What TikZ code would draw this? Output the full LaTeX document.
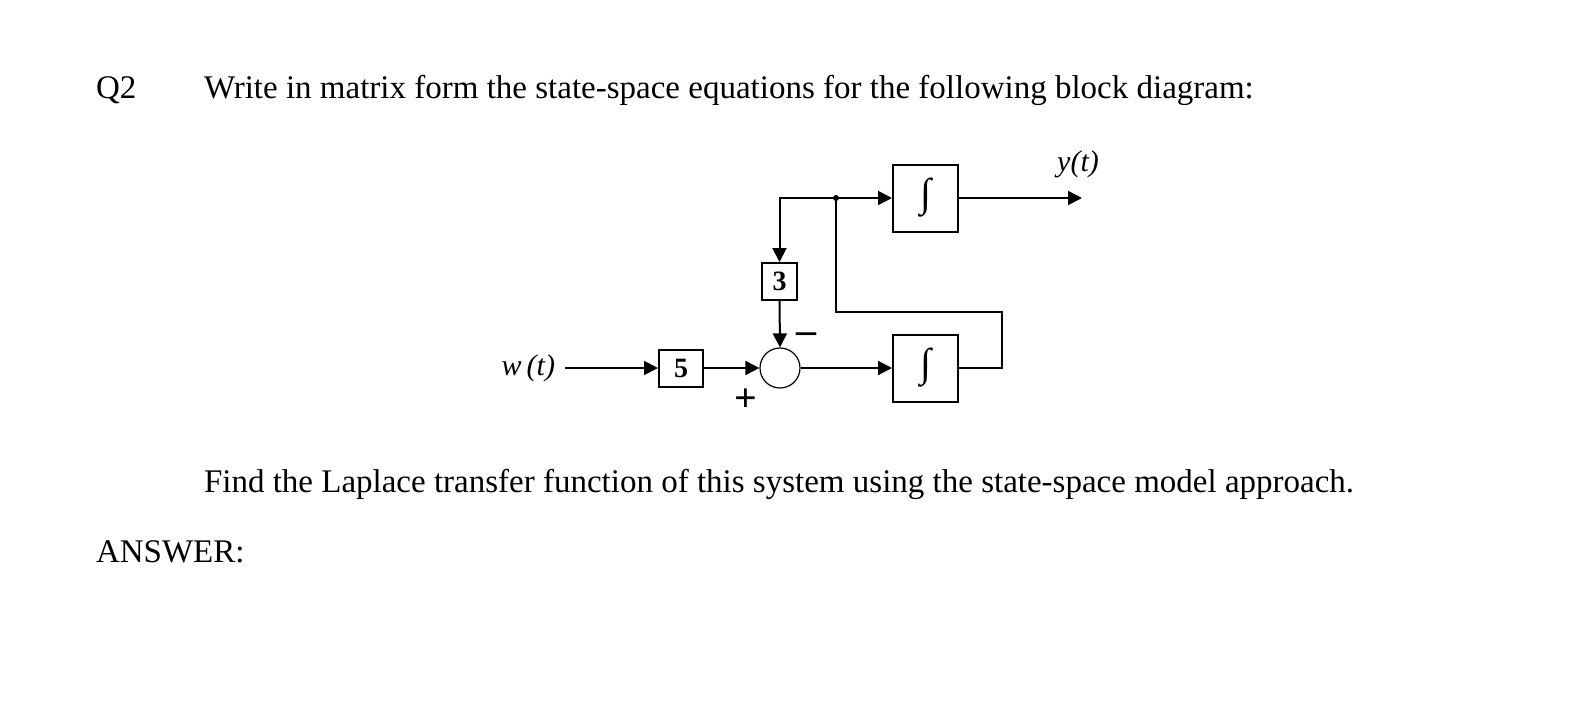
\documentclass[tikz,border=0pt]{standalone}
\usepackage{fontspec}
\setmainfont{Liberation Serif}
\usetikzlibrary{arrows.meta}
\begin{document}
\begin{tikzpicture}[x=1pt,y=-1pt,line width=2pt,
  blk/.style={draw,minimum width=44pt,minimum height=37pt,inner sep=0pt},
  intb/.style={draw,minimum width=65pt,minimum height=67pt,inner sep=0pt,font=\fontsize{40}{44}\selectfont},
  arr/.style={-{Triangle[length=14pt,width=14pt]}},
  txt/.style={font=\fontsize{33}{38}\selectfont,anchor=base west,inner sep=0pt}]
\useasboundingbox (0,0) rectangle (1582,701);
\node[txt] (q) at (95,98) {Q2};
\node[txt] (t1) at (203,98) {Write in matrix form the state-space equations for the following block diagram:};
\node[txt] (t2) at (203,492) {Find the Laplace transfer function of this system using the state-space model approach.};
\node[txt] (ans) at (95,562) {ANSWER:};
\node[intb] (i1) at (925.5,198) {∫};
\node[intb] (i2) at (925.5,368) {∫};
\node[blk,minimum width=35pt] (k3) at (779.5,281.5) {\fontsize{28}{30}\selectfont\textbf{3}};
\node[blk] (k5) at (681,368) {\fontsize{28}{30}\selectfont\textbf{5}};
\node[draw,circle,minimum size=40pt,inner sep=0pt,line width=1.2pt] (s) at (780,368) {};
\node[font=\fontsize{30}{34}\selectfont\itshape,anchor=east,inner sep=0pt] (w) at (556,368) {w\,(t)};
\node[font=\fontsize{30}{34}\selectfont\itshape,inner sep=0pt] (y) at (1078,164) {y(t)};
\coordinate (wo) at (565,368);
\coordinate (yo) at (1082,198);
\coordinate (j) at (836,198);
\node[font=\fontsize{40}{40}\selectfont\bfseries,inner sep=0pt] (plus) at (746,400) {+};
\node[font=\fontsize{40}{40}\selectfont\bfseries,inner sep=0pt] (minus) at (806,338) {\textendash};
\draw[arr] (wo) -- (k5.west);
\draw[arr] (k5.east) -- (s.west);
\draw[arr] (s.east) -- (i2.west);
\draw[arr] (j) -- (i1.west);
\draw[arr] (i1.east) -- (yo);
\draw[arr] (j) -| (k3.north);
\draw[arr] (k3.south) -- (s.north);
\draw (i2.east) -| (1002,312) -| (j);
\fill (j) circle (3pt);
\end{tikzpicture}
\end{document}
